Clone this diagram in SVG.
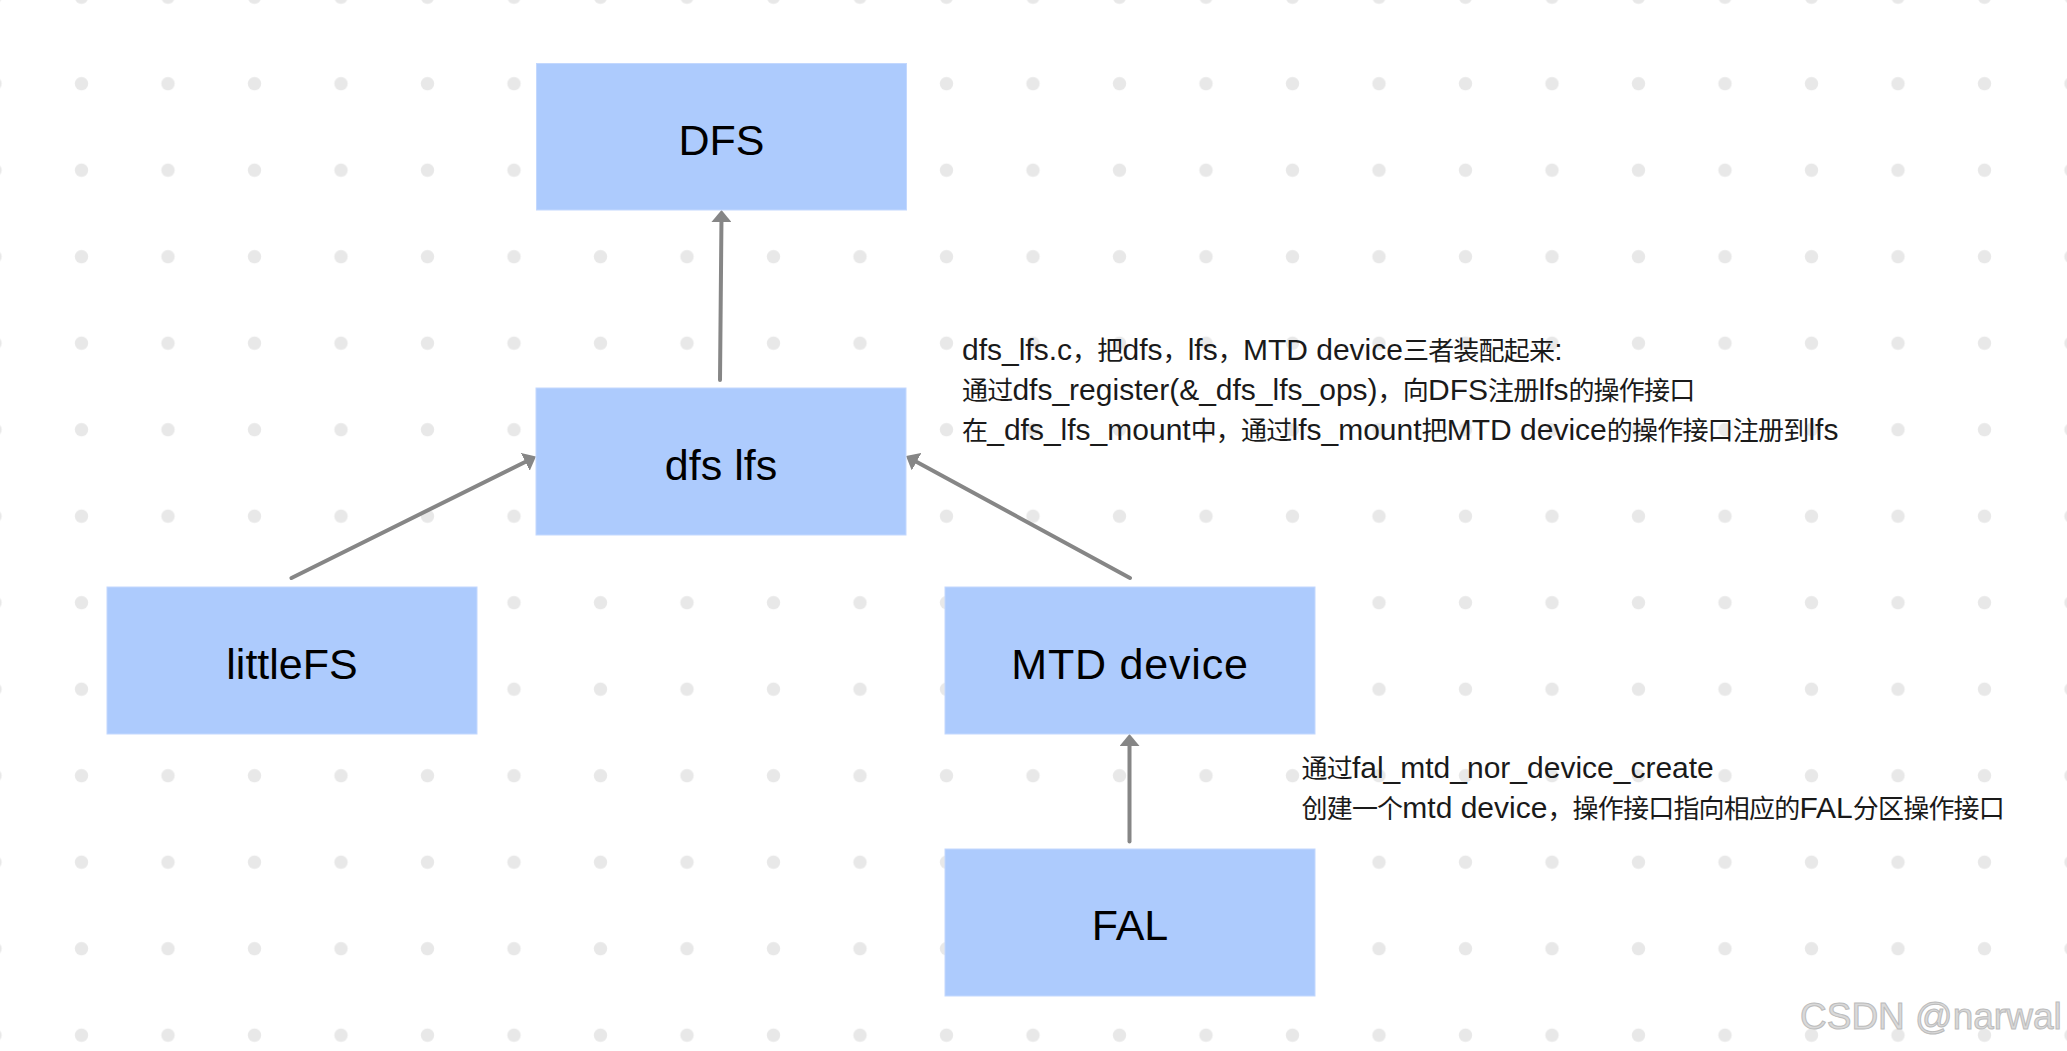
<svg xmlns="http://www.w3.org/2000/svg" width="2067" height="1051" viewBox="0 0 2067 1051">
  <style>
    .box { fill: #adcbfd; stroke: #c3d8fe; stroke-width: 1; }
    .label { font-family: "Liberation Sans", "Noto Sans CJK SC", sans-serif; font-size: 43px; fill: #000; text-anchor: middle; }
    .note { font-family: "Liberation Sans", "Noto Sans CJK SC", sans-serif; font-size: 30px; fill: #1a1a1a; }
    .cj { font-family: "Noto Sans CJK SC", sans-serif; font-size: 26px; letter-spacing: -0.8px; }
    .edge { fill: none; stroke: #868686; stroke-width: 4; stroke-linecap: round; }
    .mark { font-family: "Liberation Sans", sans-serif; font-size: 37px; fill: #d9d9d9; stroke: #bcbcbc; stroke-width: 1; }
  </style>
  <defs>
    <pattern id="dots" patternUnits="userSpaceOnUse" x="38.25" y="-46.05" width="86.5" height="86.5">
      <circle cx="43.25" cy="43.25" r="6.7" fill="#e8e8e8"/>
    </pattern>
    <marker id="head" markerUnits="userSpaceOnUse" viewBox="0 0 12 20" markerWidth="12" markerHeight="20" refX="6" refY="10" orient="auto">
      <path d="M0,0 L12,10 L0,20 Z" fill="#868686"/>
    </marker>
  </defs>

  <!-- canvas with dotted grid -->
  <rect x="0" y="0" width="2067" height="1051" fill="#ffffff"/>
  <rect x="0" y="0" width="2067" height="1051" fill="url(#dots)"/>

  <!-- connectors -->
  <g id="connectors">
    <line class="edge" x1="720" y1="380" x2="721.5" y2="216" marker-end="url(#head)"/>
    <line class="edge" x1="291.5" y1="578" x2="530.6" y2="459.2" marker-end="url(#head)"/>
    <line class="edge" x1="1130" y1="578" x2="911.3" y2="458.9" marker-end="url(#head)"/>
    <line class="edge" x1="1129.5" y1="841.5" x2="1129.5" y2="740" marker-end="url(#head)"/>
  </g>

  <!-- nodes -->
  <g id="node-dfs">
    <rect class="box" x="536.5" y="63.5" width="370" height="146.5"/>
    <text class="label" x="721.5" y="155">DFS</text>
  </g>
  <g id="node-dfs-lfs">
    <rect class="box" x="536" y="388" width="370" height="147"/>
    <text class="label" x="721" y="480">dfs lfs</text>
  </g>
  <g id="node-littlefs">
    <rect class="box" x="107" y="587" width="370" height="147"/>
    <text class="label" x="292" y="679">littleFS</text>
  </g>
  <g id="node-mtd">
    <rect class="box" x="945" y="587" width="370" height="147"/>
    <text class="label" x="1130" y="679" letter-spacing="0.8">MTD device</text>
  </g>
  <g id="node-fal">
    <rect class="box" x="945" y="849" width="370" height="147"/>
    <text class="label" x="1130" y="940">FAL</text>
  </g>

  <!-- notes -->
  <g id="note-dfs-lfs">
    <text class="note" x="962" y="360">dfs_lfs.c<tspan class="cj">，把</tspan>dfs<tspan class="cj">，</tspan>lfs<tspan class="cj">，</tspan>MTD device<tspan class="cj">三者装配起来</tspan>:</text>
    <text class="note" x="962" y="400"><tspan class="cj">通过</tspan>dfs_register(&amp;_dfs_lfs_ops)<tspan class="cj">，向</tspan>DFS<tspan class="cj">注册</tspan>lfs<tspan class="cj">的操作接口</tspan></text>
    <text class="note" x="962" y="440"><tspan class="cj">在</tspan>_dfs_lfs_mount<tspan class="cj">中，通过</tspan>lfs_mount<tspan class="cj">把</tspan>MTD device<tspan class="cj">的操作接口注册到</tspan>lfs</text>
  </g>
  <g id="note-mtd">
    <text class="note" x="1301.5" y="778"><tspan class="cj">通过</tspan>fal_mtd_nor_device_create</text>
    <text class="note" x="1301.5" y="818"><tspan class="cj">创建一个</tspan>mtd device<tspan class="cj">，操作接口指向相应的</tspan>FAL<tspan class="cj">分区操作接口</tspan></text>
  </g>

  <text class="mark" x="1800" y="1029">CSDN @narwal</text>
</svg>
